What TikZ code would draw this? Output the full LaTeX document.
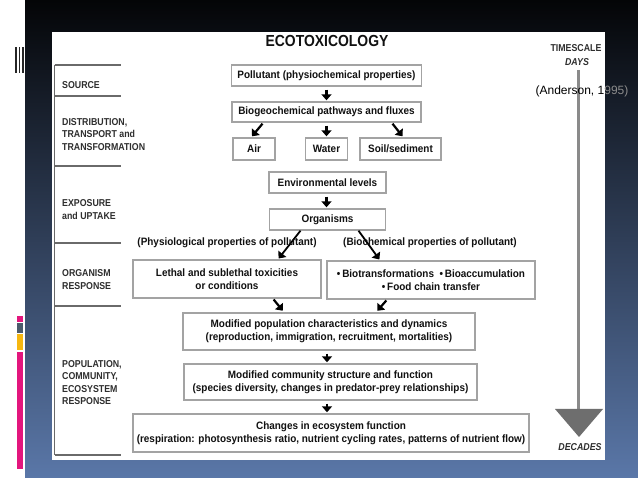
\documentclass[tikz,border=0pt]{standalone}
\usepackage{fontspec}
\setmainfont{Liberation Sans}
\newfontfamily\boxfont[FakeStretch=0.93]{Liberation Sans}
\newfontfamily\labfont[FakeStretch=0.88]{Liberation Sans}
\newfontfamily\titfont[FakeStretch=0.87]{Liberation Sans}
\usetikzlibrary{arrows.meta}
\definecolor{boxgray}{HTML}{A3A3A3}
\definecolor{txt}{HTML}{111111}
\definecolor{labtxt}{HTML}{2E2E2E}
\definecolor{secline}{HTML}{6A6A6A}
\definecolor{bgtop}{HTML}{040507}
\definecolor{bgmid}{HTML}{1F2B40}
\definecolor{bgbot}{HTML}{5A77A8}
\definecolor{pinkbar}{HTML}{E3167D}
\definecolor{graybar}{HTML}{4B5B6C}
\definecolor{yellowbar}{HTML}{F6B710}
\definecolor{tsgray}{HTML}{8A8A8A}
\definecolor{tsdark}{HTML}{6E6E6E}
\begin{document}
\begin{tikzpicture}[x=1pt,y=-1pt,
  box/.style={draw=boxgray, line width=1.4pt, fill=white, inner sep=0pt, align=center, text=txt, font=\boxfont\bfseries\fontsize{10.7}{13}\selectfont},
  arr/.style={draw=black, line width=2.2pt, -{Triangle[length=6pt,width=10pt]}},
  lab/.style={anchor=west, inner sep=0pt, align=left, text=labtxt, font=\labfont\bfseries\fontsize{10}{12.5}\selectfont},
  plain/.style={inner sep=0pt, text=txt, font=\boxfont\bfseries\fontsize{10.7}{13}\selectfont},
  ts/.style={inner sep=0pt, text=labtxt, font=\labfont\bfseries\fontsize{10}{11}\selectfont},
  tsi/.style={inner sep=0pt, text=labtxt, font=\labfont\bfseries\itshape\fontsize{10}{11}\selectfont},
  secl/.style={draw=secline, line width=1.1pt},
  anders/.style={inner sep=0pt, font=\fontsize{12}{14}\selectfont}]
\useasboundingbox (0,0) rectangle (638,478);
% background
\shade[top color=bgtop, middle color=bgmid, bottom color=bgbot] (0,0) rectangle (638,478);
\fill[white] (0,0) rectangle (25,478);
\fill[white] (52,32) rectangle (605,460);
% top-left icon
\fill[black!85] (15,47) rectangle (16.8,73);
\fill[black!85] (18.6,47) rectangle (20.4,73);
\fill[black!85] (22.2,47) rectangle (24,73);
% coloured bars
\fill[pinkbar] (17.3,316) rectangle (23.3,322);
\fill[graybar] (17.3,323.5) rectangle (23.3,333);
\fill[yellowbar] (17.3,334.5) rectangle (23.3,350);
\fill[pinkbar] (17.3,352) rectangle (23.3,469);
% section lines
\draw[secl] (54.5,65) -- (54.5,455);
\foreach \yy in {65,96,166,243,306,455} \draw[secl] (54.5,\yy) -- (121,\yy);
% section labels
\node[lab] (lsrc) at (62,85) {SOURCE};
\node[lab] (ldist) at (62,134.5) {DISTRIBUTION,\\TRANSPORT and\\TRANSFORMATION};
\node[lab] (lexp) at (62,209.5) {EXPOSURE\\and UPTAKE};
\node[lab] (lorg) at (62,279.5) {ORGANISM\\RESPONSE};
\node[lab] (lpop) at (62,382.5) {POPULATION,\\COMMUNITY,\\ECOSYSTEM\\RESPONSE};
% title
\node[inner sep=0pt, text=txt, font=\titfont\bfseries\fontsize{16}{16}\selectfont] (title) at (327,40.5) {ECOTOXICOLOGY};
% boxes
\node[box, minimum width=190pt, minimum height=21pt] (poll) at (326.5,75.5) {Pollutant (physiochemical properties)};
\node[box, minimum width=189pt, minimum height=20pt] (bgc) at (326.5,112) {Biogeochemical pathways and fluxes};
\node[box, minimum width=42pt, minimum height=22pt] (air) at (254,149) {Air};
\node[box, minimum width=42pt, minimum height=22pt] (water) at (326.5,149) {Water};
\node[box, minimum width=81pt, minimum height=22pt] (soil) at (400.5,149) {Soil/sediment};
\node[box, minimum width=117pt, minimum height=21pt] (env) at (327.5,182.5) {Environmental levels};
\node[box, minimum width=116pt, minimum height=21pt] (org) at (327.5,219.5) {Organisms};
\node[box, minimum width=188pt, minimum height=38pt] (leth) at (227,279) {Lethal and sublethal toxicities\\or conditions};
\node[box, minimum width=208pt, minimum height=38pt] (bio) at (431,280) {\textbullet\,Biotransformations\ \ \textbullet\,Bioaccumulation\\\textbullet\,Food chain transfer};
\node[box, minimum width=292pt, minimum height=37pt] (pop) at (329,331.5) {Modified population characteristics and dynamics\\(reproduction, immigration, recruitment, mortalities)};
\node[box, minimum width=293pt, minimum height=36pt] (com) at (330.5,382) {Modified community structure and function\\(species diversity, changes in predator-prey relationships)};
\node[box, minimum width=396pt, minimum height=38pt] (chg) at (331,433) {Changes in ecosystem function\\(respiration: photosynthesis ratio, nutrient cycling rates, patterns of nutrient flow)};
% arrows
\draw[arr, shorten <=3pt, shorten >=1pt] (poll.south) -- (poll.south |- bgc.north);
\draw[arr] ([xshift=-64pt,yshift=-1pt]bgc.south) -- ([xshift=-2pt,yshift=1pt]air.north);
\draw[arr, shorten <=3pt, shorten >=1pt] (bgc.south) -- (bgc.south |- water.north);
\draw[arr] ([xshift=66pt,yshift=-1pt]bgc.south) -- ([xshift=2pt,yshift=1pt]soil.north);
\draw[arr, shorten <=3pt, shorten >=1pt] ([xshift=-1pt]env.south) -- ([xshift=-1pt]env.south |- org.north);
\draw[arr, line width=1.8pt, shorten >=1pt] ([xshift=-27pt]org.south) -- ([xshift=51pt]leth.north);
\draw[arr, line width=1.8pt, shorten >=1pt] ([xshift=31pt]org.south) -- ([xshift=-51pt]bio.north);
\draw[arr, shorten <=1pt, shorten >=2pt] ([xshift=46pt]leth.south) -- ([xshift=-45pt]pop.north);
\draw[arr, shorten <=1pt, shorten >=2pt] ([xshift=-44pt]bio.south) -- ([xshift=47pt]pop.north);
\draw[arr, shorten <=3pt, shorten >=1pt] ([xshift=-2pt]pop.south) -- ([xshift=-2pt]pop.south |- com.north);
\draw[arr, shorten <=3pt, shorten >=1pt] ([xshift=-3.5pt]com.south) -- ([xshift=-3.5pt]com.south |- chg.north);
% property labels
\node[plain] (phys) at (227,243) {(Physiological properties of pollutant)};
\node[plain] (bioch) at (430,243) {(Biochemical properties of pollutant)};
% timescale
\node[ts] (tsc) at (576,48) {TIMESCALE};
\node[tsi] (days) at (577,62) {DAYS};
\draw[draw=tsgray, line width=3pt] (578,70) -- (578,410);
\fill[tsdark] (555,409) -- (603,409) -- (579,437) -- cycle;
\node[tsi] (dec) at (580,447) {DECADES};
% reference
\begin{scope}
\clip (52,32) rectangle (605,460);
\node[anders, text=black] (anda) at (582,91) {(Anderson, 1995)};
\end{scope}
\begin{scope}
\clip (605,0) rectangle (638,478);
\node[anders, text=black!45] (andb) at (582,91) {(Anderson, 1995)};
\end{scope}
\end{tikzpicture}
\end{document}
